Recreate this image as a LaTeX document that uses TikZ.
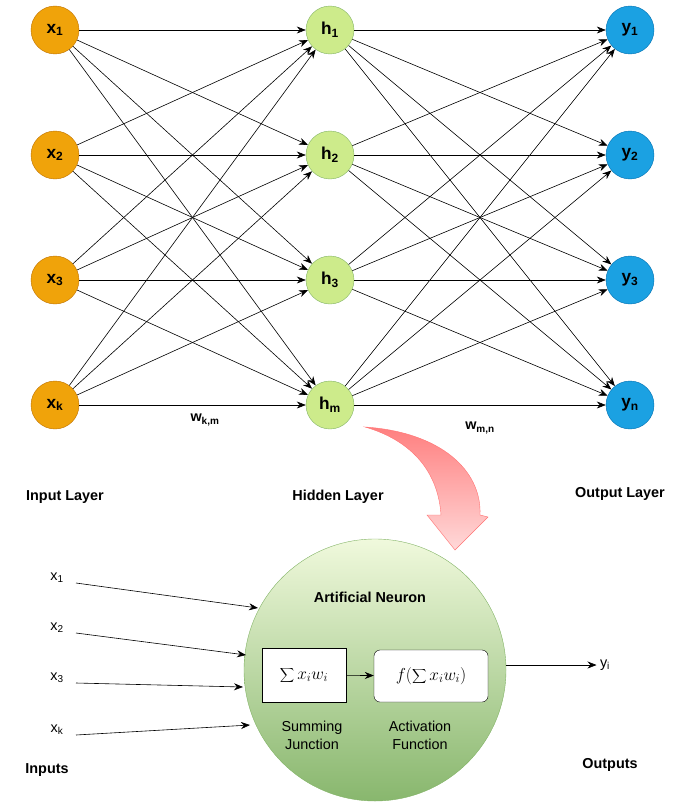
\documentclass[tikz,border=0pt]{standalone}
\usepackage{fontspec}
\setmainfont{Liberation Sans}
\usetikzlibrary{arrows.meta}
\definecolor{org}{HTML}{F0A30A}\definecolor{orgd}{HTML}{BD7000}
\definecolor{grn}{HTML}{CDEB8B}\definecolor{grnd}{HTML}{82B366}
\definecolor{blu}{HTML}{1BA1E2}\definecolor{blud}{HTML}{006EAF}
\begin{document}
\begin{tikzpicture}[x=1pt,y=-1pt,
 neu/.style={circle,minimum size=48pt,inner sep=0pt,font=\bfseries\LARGE,draw},
 inn/.style={neu,fill=org,draw=orgd},
 hid/.style={neu,fill=grn,draw=grnd},
 outn/.style={neu,fill=blu,draw=blud},
 con/.style={-{Stealth[length=9pt,width=7pt]},line width=0.6pt},
 lbl/.style={font=\bfseries\Large},
 txt/.style={font=\Large}]
\useasboundingbox (0,0) rectangle (685,808);
\foreach \i/\s [count=\n] in {30/1,155/2,280/3,405/k}{
 \node[inn] (x\n) at (55,\i) {x\textsubscript{\s}};}
\foreach \i/\s [count=\n] in {30/1,155/2,280/3,405/m}{
 \node[hid] (h\n) at (330,\i) {h\textsubscript{\s}};}
\foreach \i/\s [count=\n] in {30/1,155/2,280/3,405/n}{
 \node[outn] (y\n) at (630,\i) {y\textsubscript{\s}};}
\foreach \a in {1,...,4}{\foreach \b in {1,...,4}{
 \draw[con] (x\a) -- (h\b); \draw[con] (h\a) -- (y\b);}}
\node[lbl] (wk) at (205,420) {w\textsubscript{k,m}};
\node[lbl] (wm) at (480,428) {w\textsubscript{m,n}};
\node[lbl] (il) at (65,497) {Input Layer};
\node[lbl] (hl) at (338,497) {Hidden Layer};
\node[lbl] (ol) at (620,494) {Output Layer};
% curved arrow
\shade[top color=red!50!white,bottom color=red!15!white,draw=red!55!white]
 (365,427) .. controls (440,432) and (482,470) .. (480,515) -- (488,517) -- (455,550) -- (427,515) -- (441,515)
 .. controls (438,470) and (410,440) .. (365,427) -- cycle;
% big neuron
\node[circle,minimum size=262pt,top color=grn!30!white,bottom color=grnd!95!white,draw=grnd] (big) at (375,670) {};
\node[lbl] (an) at (370,597) {Artificial Neuron};
\node[draw,fill=white,minimum width=84pt,minimum height=54pt,inner sep=0pt,font=\LARGE] (sum) at (304,675) {$\displaystyle\sum x_iw_i$};
\node[draw,fill=white,rounded corners=6pt,minimum width=114pt,minimum height=52pt,inner sep=0pt,font=\LARGE] (act) at (431,676) {$f(\displaystyle\sum x_iw_i)$};
\draw[con] (sum) -- (act);
\node[txt,align=center] (sj) at (312,735) {Summing\\Junction};
\node[txt,align=center] (af) at (420,735) {Activation\\Function};
\foreach \y/\s [count=\n] in {578/1,628/2,678/3,730/k}{
 \node[txt] (i\n) at (57,\y) {x\textsubscript{\s}};
 \coordinate (s\n) at (76,\y+5);}
\coordinate (e1) at (258,608);
\coordinate (e2) at (246,655);
\coordinate (e3) at (243,687);
\coordinate (e4) at (250,725);
\foreach \n in {1,...,4}{\draw[con] (s\n) -- (e\n);}
\node[txt] (yi) at (605,665) {y\textsubscript{i}};
\coordinate (oe) at (506,665);
\draw[con] (oe) -- (yi.west);
\node[lbl] (inp) at (47,770) {Inputs};
\node[lbl] (outs) at (610,765) {Outputs};
\end{tikzpicture}
\end{document}
